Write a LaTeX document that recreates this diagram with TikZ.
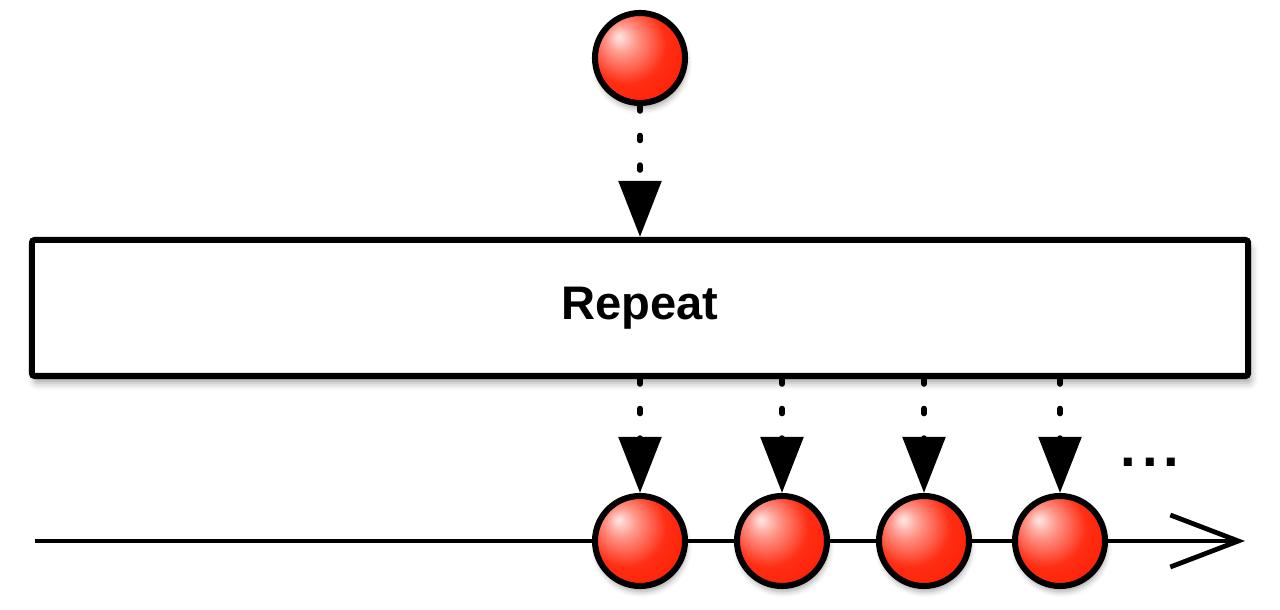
\documentclass[tikz,border=0pt]{standalone}
\usepackage{fontspec}
\setmainfont{Liberation Sans}
\usetikzlibrary{arrows.meta, shadows.blur, positioning}

\definecolor{marbleRed}{RGB}{255,28,0}
\pgfdeclareradialshading{marbleshade}{\pgfpoint{-12bp}{12bp}}{%
    color(0bp)=(white!90!marbleRed); color(8bp)=(marbleRed!45!white); color(22bp)=(marbleRed!92!white);
    color(38bp)=(marbleRed); color(48bp)=(marbleRed!75!black); color(60bp)=(marbleRed!45!black)}

\begin{document}
\begin{tikzpicture}[x=0.025cm, y=0.025cm,
        marble/.style={circle, draw, line width=4.3pt, minimum size=2.25cm, inner sep=0pt, shading=marbleshade,
            blur shadow={shadow xshift=1pt, shadow yshift=-4pt, shadow blur radius=4pt, shadow opacity=35}},
        box/.style={rectangle, draw, fill=white, line width=4.3pt, rounded corners=2pt,
            minimum width=30.4cm, minimum height=3.4cm, font=\bfseries\fontsize{33.5}{40}\selectfont,
            blur shadow={shadow xshift=2pt, shadow yshift=-5pt, shadow blur radius=5pt, shadow opacity=35}},
        flow/.style={line width=4pt, line cap=round, dash pattern=on 3.5pt off 17.5pt,
            -{Triangle[length=1.4cm, width=1.05cm]}},
        timeline/.style={line width=3.4pt, -{Straight Barb[length=1.7cm, width=1.3cm]}}]
    \useasboundingbox (0,0) rectangle (1280,610);

    % time axis below the emitted items
    \coordinate (Start) at (35,69);
    \coordinate (End) at (1245,69);
    \draw[timeline] (Start) -- (End);

    \node (Source) [marble] at (640,552) {};
    \node (Repeat) [box] at (640,302) {Repeat};
    \draw[flow] (Source) -- (Repeat.north);

    \foreach \name/\x in {Out1/640, Out2/782, Out3/924, Out4/1060} {
        \node (\name) [marble] at (\x,69) {};
        \draw[flow] (Repeat.south -| \name) -- (\name.north);
    }

    \node (More) [font=\bfseries\fontsize{40}{40}\selectfont] at (1150,148) {.\kern4pt.\kern4pt.};
\end{tikzpicture}
\end{document}
